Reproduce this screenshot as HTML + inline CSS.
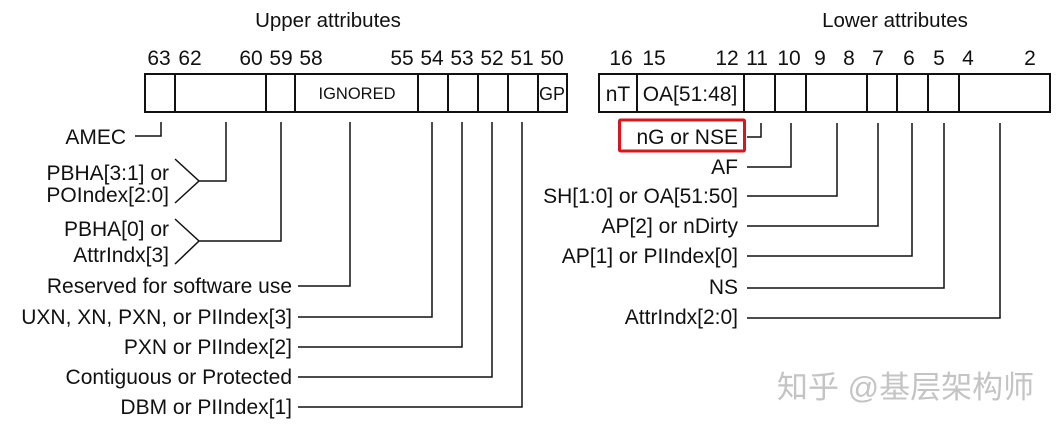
<!DOCTYPE html>
<html><head><meta charset="utf-8"><style>
html,body{margin:0;padding:0;background:#fff;}
svg{display:block;}
text{font-family:"Liberation Sans",Arial,sans-serif;fill:#111;}
</style></head><body>
<svg width="1064" height="433" viewBox="0 0 1064 433" xmlns="http://www.w3.org/2000/svg">
<g font-size="20.5">
<text x="328" y="27" text-anchor="middle">Upper attributes</text>
<text x="895" y="27" text-anchor="middle">Lower attributes</text>
</g>
<g font-size="21" text-anchor="middle">
<text x="159" y="65">63</text><text x="190" y="65">62</text><text x="251" y="65">60</text><text x="281" y="65">59</text><text x="311" y="65">58</text>
<text x="402" y="65">55</text><text x="432" y="65">54</text><text x="462" y="65">53</text><text x="492" y="65">52</text><text x="522" y="65">51</text><text x="552" y="65">50</text>
<text x="621" y="65">16</text><text x="654" y="65">15</text><text x="727" y="65">12</text><text x="757" y="65">11</text><text x="789" y="65">10</text>
<text x="820" y="65">9</text><text x="849" y="65">8</text><text x="878" y="65">7</text><text x="909" y="65">6</text><text x="939" y="65">5</text><text x="968" y="65">4</text><text x="1030" y="65">2</text>
</g>
<g fill="none" stroke="#111" stroke-width="2">
<rect x="145" y="74" width="422" height="38"/>
<path d="M175 74V112M266 74V112M295 74V112M418 74V112M448 74V112M478 74V112M508 74V112M538 74V112"/>
<rect x="599" y="74" width="451" height="38"/>
<path d="M637 74V112M744 74V112M775 74V112M806 74V112M867 74V112M897 74V112M928 74V112M959 74V112"/>
</g>
<g text-anchor="middle">
<text x="357" y="99" font-size="16.5">IGNORED</text>
<text x="552" y="100" font-size="18">GP</text>
</g>
<g font-size="21" text-anchor="middle">
<text x="618" y="101">nT</text>
<text x="690" y="101">OA[51:48]</text>
</g>
<g fill="none" stroke="#111" stroke-width="1.5">
<path d="M161 122V136H135"/>
<path d="M226 122V181H199M175 159L199 181L175 203"/>
<path d="M281 122V241H199M175 219L199 241L175 264"/>
<path d="M350 122V286H298"/>
<path d="M432 122V317H298"/>
<path d="M462 122V347H298"/>
<path d="M492 122V377H298"/>
<path d="M522 122V407H298"/>
<path d="M761 123V137H747"/>
<path d="M791 123V167H747"/>
<path d="M837 123V196H747"/>
<path d="M878 123V226H747"/>
<path d="M912 123V256H747"/>
<path d="M944 123V288H747"/>
<path d="M1000 123V318H747"/>
</g>
<g font-size="21" text-anchor="end">
<text x="126" y="144">AMEC</text>
<text x="169" y="180">PBHA[3:1] or</text>
<text x="169" y="202">POIndex[2:0]</text>
<text x="169" y="236">PBHA[0] or</text>
<text x="169" y="262">AttrIndx[3]</text>
<text x="292" y="293">Reserved for software use</text>
<text x="292" y="324">UXN, XN, PXN, or PIIndex[3]</text>
<text x="292" y="354">PXN or PIIndex[2]</text>
<text x="292" y="384">Contiguous or Protected</text>
<text x="292" y="414">DBM or PIIndex[1]</text>
<text x="738" y="144">nG or NSE</text>
<text x="738" y="174">AF</text>
<text x="738" y="203">SH[1:0] or OA[51:50]</text>
<text x="738" y="233">AP[2] or nDirty</text>
<text x="738" y="263">AP[1] or PIIndex[0]</text>
<text x="738" y="294">NS</text>
<text x="738" y="324">AttrIndx[2:0]</text>
</g>
<rect x="619.5" y="120" width="125" height="31" fill="none" stroke="#d9161c" stroke-width="3" rx="1"/>
<text x="777" y="398" font-size="31" style="font-family:'Liberation Sans','Noto Sans CJK SC',sans-serif;fill:#c4c4c4">知乎 @基层架构师</text>
</svg>
</body></html>
